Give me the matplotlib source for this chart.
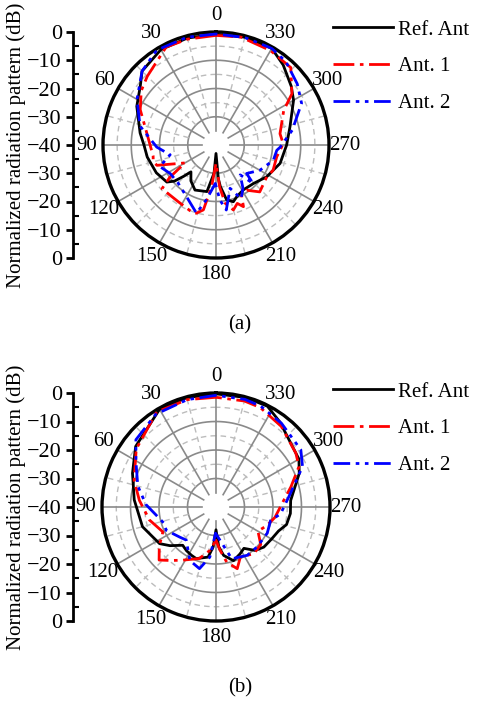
import numpy as np
import matplotlib
matplotlib.use('Agg')
import matplotlib.pyplot as plt

plt.rcParams['font.family'] = ['Liberation Serif', 'DejaVu Serif']

# ---------------- data ----------------
angle_labels = [0, 30, 60, 90, 120, 150, 180, 210, 240, 270, 300, 330]
left_tick_labels = ['0', '\u221210', '\u221220', '\u221230', '\u221240',
                    '\u221230', '\u221220', '\u221210', '0']
series_names = ['Ref. Ant', 'Ant. 1', 'Ant. 2']

# panel (a)
ref_a_deg = [0, 15, 30, 45, 52, 64, 81, 90, 100, 115, 127, 131, 134, 137, 145, 155, 169,
             176, 180, 184, 186, 191, 197, 202, 211, 224, 238, 246, 254, 270, 284, 300,
             308, 320, 330, 345, 360]
ref_a_db = [-0.8, -0.8, -1.0, -3.0, -6.0, -8.8, -12.8, -14.5, -15.3, -16.7, -18.2, -20.5,
            -24.0, -27.0, -24.5, -22.4, -23.2, -30.0, -37.0, -28.0, -25.2, -20.2, -19.0,
            -20.3, -21.4, -21.0, -18.8, -17.9, -16.4, -15.0, -13.0, -8.3, -6.2, -3.0,
            -0.5, -0.5, -0.8]

ant1_a_deg = [0, 15, 27, 45, 54, 65, 80, 100, 105, 109, 120, 125, 129, 146, 162, 164, 169,
              174, 180, 185, 189, 195, 200, 204, 207, 214, 223, 238, 246, 259, 271, 280,
              297, 304, 316, 330, 347, 360]
ant1_a_db = [-1.2, -1.2, -1.1, -5.6, -7.3, -10.4, -15.1, -17.4, -17.0, -17.9, -27.3, -20.0,
             -15.4, -15.9, -14.5, -14.9, -16.6, -25.2, -33.5, -25.0, -19.1, -16.2, -18.0,
             -16.1, -20.1, -20.7, -17.3, -18.8, -17.9, -18.1, -16.2, -17.0, -13.1, -7.6,
             -1.9, -1.4, -0.8, -1.2]

ant2_a_deg = [0, 15, 32, 45, 60, 76, 92, 102, 111, 122, 135, 150, 164, 170, 179, 184, 189,
              198, 205, 212, 219, 224, 227, 240, 255, 265, 268, 281, 296, 307, 320, 330,
              345, 360]
ant2_a_db = [-0.7, -0.5, -0.4, -3.0, -7.7, -12.3, -19.0, -23.4, -18.7, -20.9, -21.0, -19.0,
             -14.9, -20.3, -26.4, -20.5, -16.7, -23.9, -19.0, -22.0, -26.4, -21.1, -25.2,
             -22.1, -19.0, -18.4, -17.3, -12.5, -6.3, -4.0, -1.5, -0.5, -0.6, -0.7]

# panel (b)
ref_b_deg = [0, 15, 30, 53, 68, 85, 105, 115, 123, 130, 139, 146, 153, 159, 171, 176, 180,
             184, 189, 198, 207, 214, 222, 230, 240, 249, 256, 265, 275, 292, 300, 323,
             333, 345, 360]
ref_b_db = [-0.3, -0.3, -0.4, -4.7, -8.4, -11.2, -13.3, -15.4, -16.4, -18.9, -22.2, -21.5,
            -21.0, -20.6, -22.2, -26.0, -32.0, -26.0, -22.8, -20.2, -21.5, -22.5, -19.5,
            -18.1, -17.5, -16.5, -14.5, -13.8, -13.7, -8.5, -6.4, -2.7, -0.3, -0.2, -0.3]

ant1_b_deg = [0, 15, 32, 54, 72, 85, 101, 115, 118, 124, 133, 140, 148, 162, 172, 180, 185,
              191, 199, 206, 219, 230, 240, 250, 260, 276, 285, 296, 304, 321, 336, 345, 360]
ant1_b_db = [-1.5, -1.0, -0.7, -5.4, -9.8, -13.0, -16.2, -19.4, -18.6, -16.0, -12.7, -15.5,
             -18.0, -21.0, -24.6, -28.3, -25.0, -20.3, -17.1, -20.5, -18.9, -19.5, -23.0,
             -21.0, -19.0, -16.0, -12.8, -7.6, -6.2, -3.6, -1.8, -1.5, -1.5]

ant2_b_deg = [0, 15, 33, 50, 61, 75, 88, 108, 115, 130, 138, 154, 165, 173, 179, 187, 197,
              213, 226, 243, 256, 264, 278, 295, 304, 322, 336, 345, 360]
ant2_b_db = [-0.8, -1.0, -1.2, -3.3, -7.9, -11.6, -15.4, -21.0, -20.7, -23.5, -24.4, -19.1,
             -17.6, -22.3, -30.8, -28.2, -21.0, -19.8, -19.9, -19.8, -20.3, -17.2, -14.2,
             -6.5, -4.1, -2.7, -1.3, -0.9, -0.8]

panels = [
    ('(a)', [(ref_a_deg, ref_a_db), (ant1_a_deg, ant1_a_db), (ant2_a_deg, ant2_a_db)]),
    ('(b)', [(ref_b_deg, ref_b_db), (ant1_b_deg, ant1_b_db), (ant2_b_deg, ant2_b_db)]),
]

# ---------------- layout ----------------
W, H = 480, 703
fig = plt.figure(figsize=(W / 100, H / 100), dpi=100)
FS = 15

# (center_x, center_y, radius) in pixels, legend top, caption y
geom = [(216, 145, 113, 20, 325), (216, 507, 114, 382, 688)]

styles = [
    dict(color='black', lw=2.0, ls='-'),
    dict(color='#ff0000', lw=2.0, dashes=[7.5, 2.0, 1.3, 2.0]),
    dict(color='#0000ff', lw=2.0, dashes=[6.0, 2.0, 1.3, 2.0, 1.3, 2.0]),
]

grid_dark = '#8a8a8a'
grid_light = '#bcbcbc'

for (caption, series), (cx, cy, rad, leg_top, cap_y) in zip(panels, geom):
    rect = [(cx - rad) / W, 1 - (cy + rad) / H, 2 * rad / W, 2 * rad / H]
    ax = fig.add_axes(rect, projection='polar')
    ax.set_theta_zero_location('N')
    ax.set_theta_direction(1)
    ax.set_ylim(-40, 0)
    ax.set_yticks([])
    ax.set_xticks(np.deg2rad(np.arange(0, 360, 30)))
    ax.set_xticks(np.deg2rad(np.arange(15, 360, 30)), minor=True)
    ax.set_xticklabels([])
    ax.grid(False)
    ax.tick_params(axis='x', which='major', direction='in', length=6, width=2, color='black')
    ax.tick_params(axis='x', which='minor', direction='in', length=3.5, width=1.5, color='black')
    ax.spines['polar'].set_linewidth(2.4)

    th = np.linspace(0, 2 * np.pi, 721)
    for r in (-30, -20, -10):
        ax.plot(th, np.full_like(th, r), color=grid_dark, lw=1.2, zorder=1)
    for r in (-25, -15, -5):
        ax.plot(th, np.full_like(th, r), color=grid_light, lw=1.0, ls=(0, (4, 3)), zorder=1)
    for a in range(0, 360, 30):
        ax.plot([np.deg2rad(a)] * 2, [-35, 0], color=grid_dark, lw=1.2, zorder=1)
    for a in range(15, 360, 30):
        ax.plot([np.deg2rad(a)] * 2, [-30, 0], color=grid_light, lw=1.0, ls=(0, (4, 3)), zorder=1)

    handles = []
    for (deg, db), st, name in zip(series, styles, series_names):
        ln, = ax.plot(np.deg2rad(deg), db, label=name, zorder=3, **st)
        handles.append(ln)

    for a in angle_labels:
        ax.text(np.deg2rad(a), 5.7, str(a), ha='center', va='center', fontsize=FS)

    # left linear axis
    lax = fig.add_axes([73 / W, rect[1], 0.0005, rect[3]])
    lax.set_xlim(0, 1)
    lax.set_ylim(0, 80)
    for s in ('top', 'right', 'bottom'):
        lax.spines[s].set_visible(False)
    lax.spines['left'].set_linewidth(2)
    lax.set_xticks([])
    lax.set_yticks(np.arange(0, 81, 10))
    lax.set_yticklabels(left_tick_labels)
    lax.set_yticks(np.arange(5, 80, 10), minor=True)
    lax.tick_params(axis='y', which='major', direction='out', length=5, width=2,
                    labelsize=16, pad=3)
    lax.tick_params(axis='y', which='minor', direction='in', length=4, width=1.5)
    lax.patch.set_visible(False)

    fig.text(16 / W, 1 - cy / H, 'Normalized radiation pattern (dB)', rotation=90,
             ha='center', va='center', fontsize=FS)
    fig.text(240 / W, 1 - cap_y / H, caption, ha='center', va='center', fontsize=FS)

    fig.legend(handles=handles, loc='upper left', bbox_to_anchor=(333 / W, 1 - leg_top / H),
               frameon=False, fontsize=FS, handlelength=2.9, handletextpad=0.2,
               labelspacing=0.82, borderpad=0, borderaxespad=0)

fig.savefig('out.png', dpi=100)
